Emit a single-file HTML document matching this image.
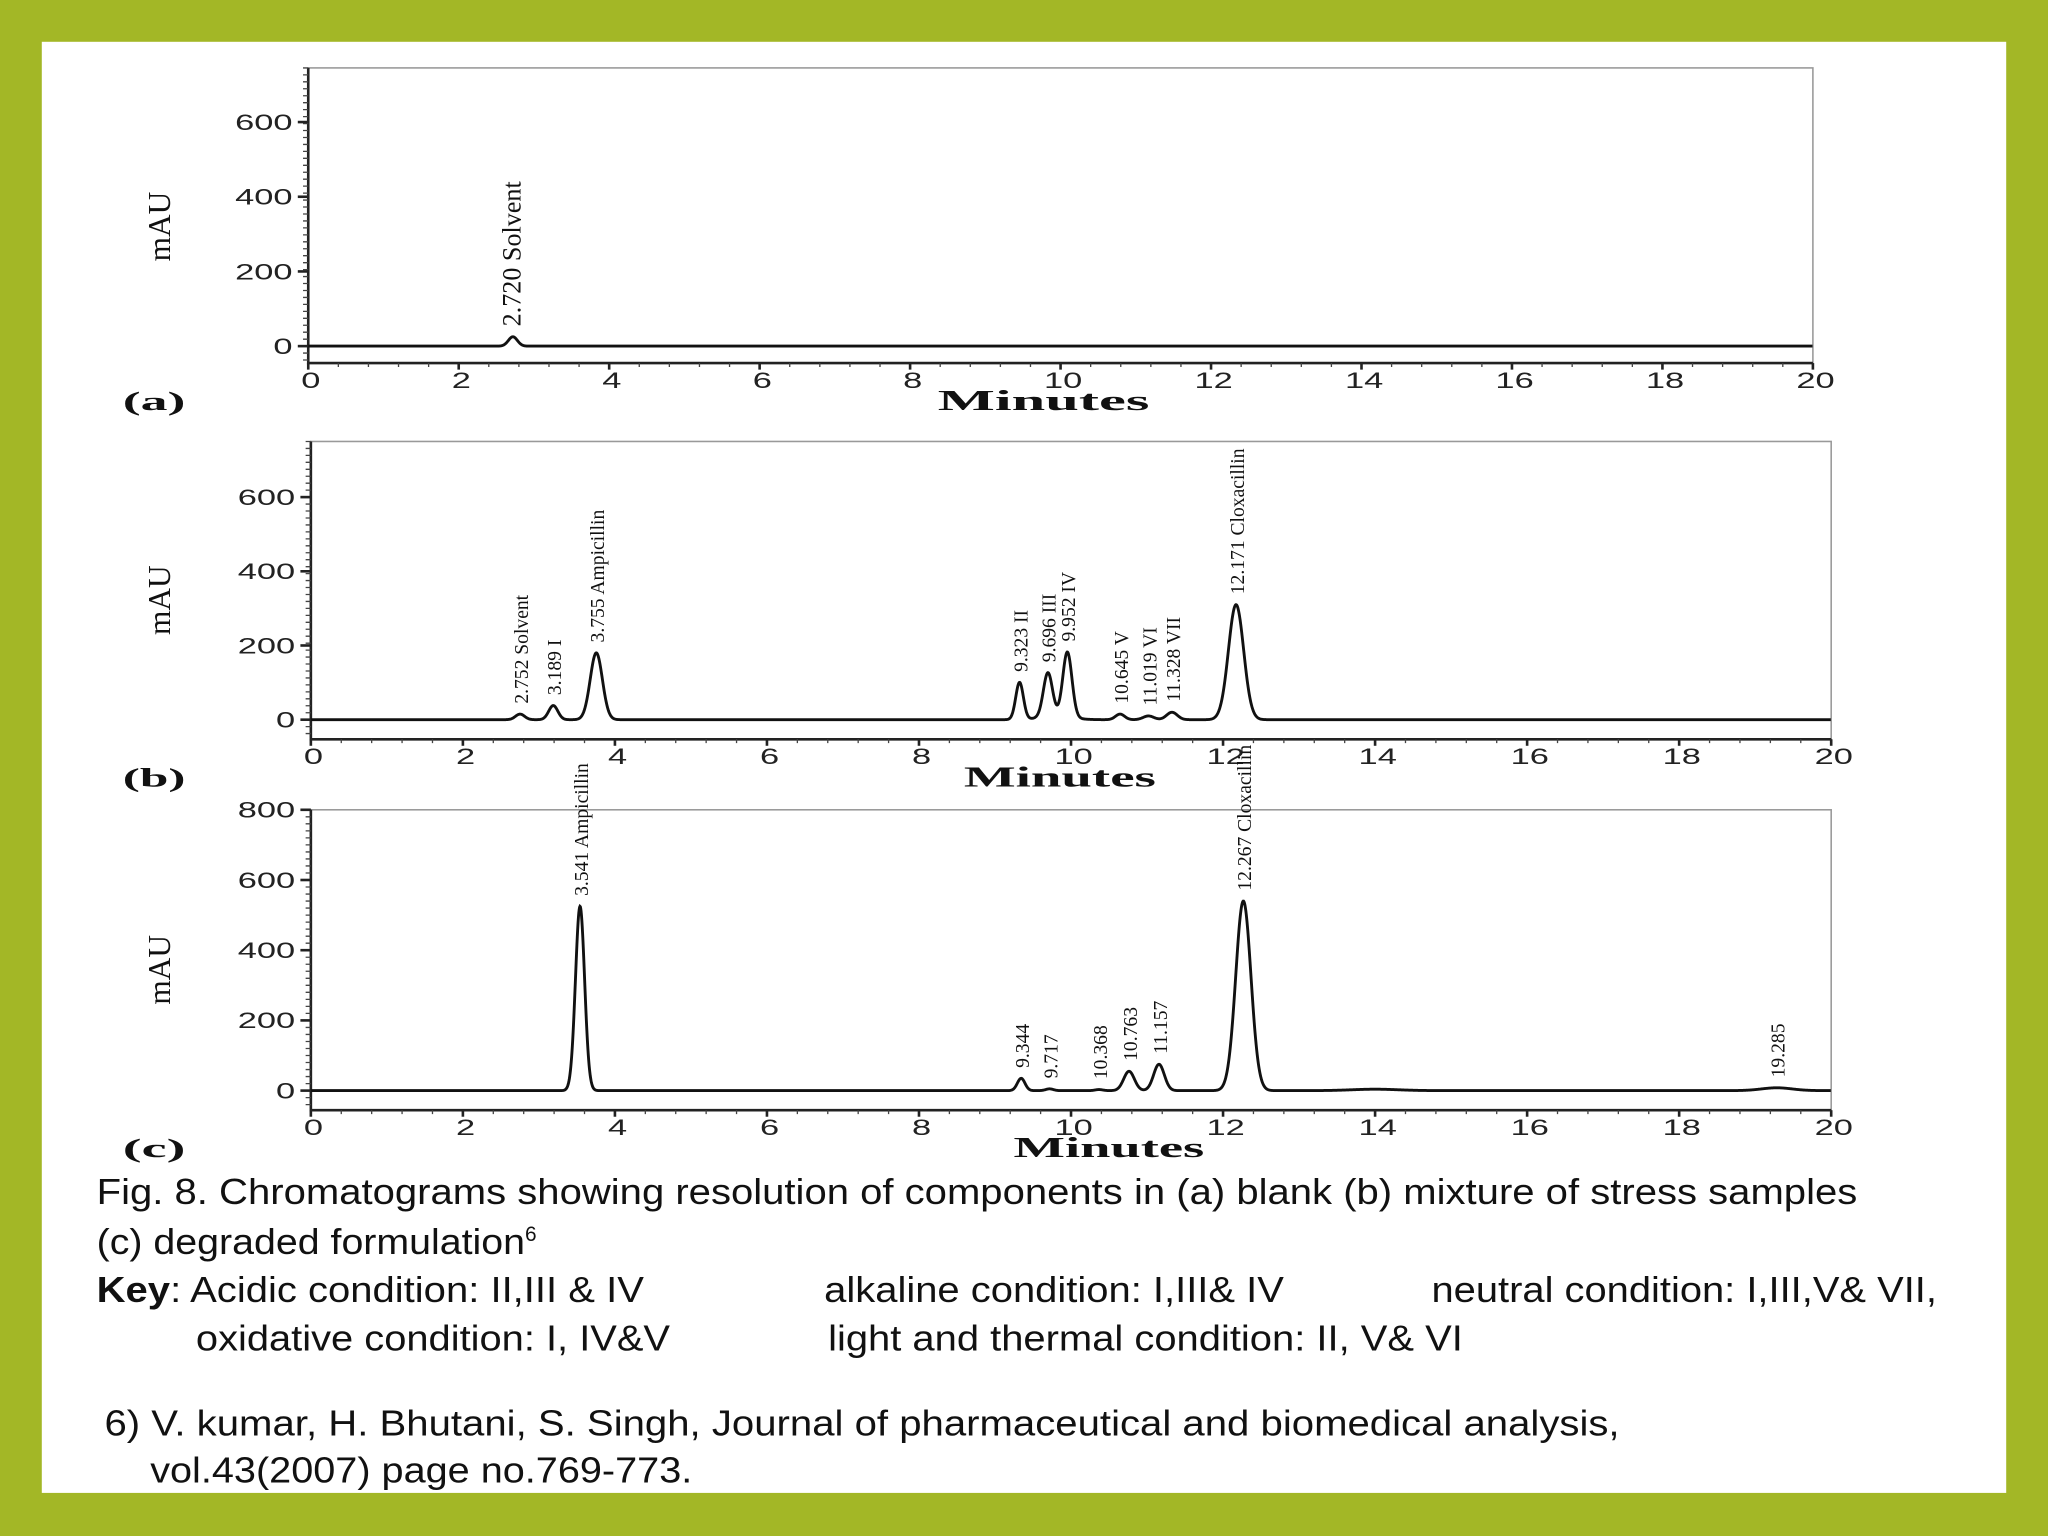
<!DOCTYPE html>
<html><head><meta charset="utf-8"><style>
html,body{margin:0;padding:0;background:#a3b726;}
svg{display:block}
.tk{font-family:"Liberation Sans",sans-serif;font-size:17px;fill:#222}
.ser{font-family:"Liberation Serif",serif;fill:#111}
.cap{font-family:"Liberation Sans",sans-serif;font-size:28px;fill:#111}
</style></head><body>
<svg id="root" width="2048" height="1536" viewBox="0 0 1568 1176">
<rect x="0" y="0" width="1568" height="1176" fill="#a3b726"/>
<rect x="32" y="32" width="1504" height="1111" fill="#fff"/>
<g id="charts"></g>
<g>
<text class="cap" x="74" y="922" textLength="1348" lengthAdjust="spacingAndGlyphs">Fig. 8. Chromatograms showing resolution of components in (a) blank (b) mixture of stress samples</text>
<text class="cap" x="74" y="960"><tspan textLength="328" lengthAdjust="spacingAndGlyphs">(c) degraded formulation</tspan><tspan font-size="16" dy="-10">6</tspan></text>
<text class="cap" x="74" y="997" textLength="419" lengthAdjust="spacingAndGlyphs"><tspan font-weight="bold">Key</tspan>: Acidic condition: II,III &amp; IV</text>
<text class="cap" x="631" y="997" textLength="352" lengthAdjust="spacingAndGlyphs">alkaline condition: I,III&amp; IV</text>
<text class="cap" x="1096" y="997" textLength="387" lengthAdjust="spacingAndGlyphs">neutral condition: I,III,V&amp; VII,</text>
<text class="cap" x="150" y="1034" textLength="363" lengthAdjust="spacingAndGlyphs">oxidative condition: I, IV&amp;V</text>
<text class="cap" x="634" y="1034" textLength="486" lengthAdjust="spacingAndGlyphs">light and thermal condition: II, V&amp; VI</text>
<text class="cap" x="80" y="1099" textLength="1160" lengthAdjust="spacingAndGlyphs">6) V. kumar, H. Bhutani, S. Singh, Journal of pharmaceutical and biomedical analysis,</text>
<text class="cap" x="115" y="1135" textLength="415" lengthAdjust="spacingAndGlyphs">vol.43(2007) page no.769-773.</text>
</g>
</svg>
<script>
const xTicks=[0,2,4,6,8,10,12,14,16,18,20];
const yTicksA=[0,200,400,600];
const yTicksC=[0,200,400,600,800];
const peaksA_t=[2.72];
const peaksA_h=[25];
const peaksA_w=[0.06];
const labelsA=["2.720 Solvent"];
const peaksB_t=[2.752,3.189,3.755,9.323,9.696,9.952,10.645,11.019,11.328,12.171,9.8];
const peaksB_h=[15,38,180,100,118,175,15,10,20,310,10];
const peaksB_w=[0.06,0.06,0.08,0.05,0.06,0.06,0.06,0.07,0.07,0.1,0.2];
const labelsB=["2.752 Solvent","3.189 I","3.755 Ampicillin","9.323 II","9.696 III","9.952 IV","10.645 V","11.019 VI","11.328 VII","12.171 Cloxacillin",""];
const peaksC_t=[3.541,9.344,9.717,10.368,10.763,11.157,12.267,14.0,19.285];
const peaksC_h=[525,35,5,3,55,75,540,4,8];
const peaksC_w=[0.06,0.05,0.05,0.05,0.07,0.07,0.1,0.3,0.2];
const labelsC=["3.541 Ampicillin","9.344","9.717","10.368","10.763","11.157","12.267 Cloxacillin","","19.285"];

const NS="http://www.w3.org/2000/svg";
const root=document.getElementById('charts');
function mk(tag,attrs,parent){const e=document.createElementNS(NS,tag);for(const k in attrs)e.setAttribute(k,attrs[k]);(parent||root).appendChild(e);return e;}

function panel(cfg){
  const g=mk('g',{});
  
  
  const X=v=>cfg.x0+(cfg.x1-cfg.x0)*v/20;
  const Y=v=>cfg.yz-(cfg.yz-cfg.ytop)*v/cfg.ymax;
  const frame=mk('rect',{x:cfg.x0,y:cfg.ytop,width:cfg.x1-cfg.x0,height:cfg.ybot-cfg.ytop,fill:'none',stroke:'#999','stroke-width':1.2},g);
  
  
  const ax=mk('path',{d:`M${cfg.x0},${cfg.ytop}V${cfg.ybot}H${cfg.x1}`,fill:'none',stroke:'#222','stroke-width':2},g);
  
  
  let d='';
  for(let v=-cfg.ymax;v<=cfg.ymax*1.2;v+=cfg.ymax/40){const y=Y(v);if(y>=cfg.ytop&&y<=cfg.ybot)d+=`M${cfg.x0},${y}h-4`;}
  for(let v=0;v<=20;v+=0.4)d+=`M${X(v)},${cfg.ybot}v3`;
  mk('path',{d:d,stroke:'#444','stroke-width':1},g);
  cfg.yt.forEach(v=>{
    mk('path',{d:`M${cfg.x0},${Y(v)}h-8`,stroke:'#222','stroke-width':2},g);
    const t=mk('text',{class:'tk','text-anchor':'end',transform:`translate(${cfg.x0-12},${Y(v)+6}) scale(1.55,1)`},g);t.textContent=v;
    
    
  });
  xTicks.forEach(v=>{
    mk('path',{d:`M${X(v)},${cfg.ybot}v5`,stroke:'#222','stroke-width':2},g);
    const t=mk('text',{class:'tk','text-anchor':'middle',transform:`translate(${X(v)+2},${cfg.ybot+19}) scale(1.55,1)`},g);t.textContent=v;
    
    
  });
  const xt=mk('text',{class:'ser',x:cfg.mx,y:cfg.ybot+36,'font-size':22,'font-weight':'bold',textLength:cfg.mw,lengthAdjust:'spacingAndGlyphs'},g);xt.textContent='Minutes';
  
  
  const pl=mk('text',{class:'ser',x:94,y:cfg.ybot+36,'font-size':20,'font-weight':'bold',textLength:48,lengthAdjust:'spacingAndGlyphs'},g);pl.textContent='('+cfg.id+')';
  
  
  const yl=mk('text',{class:'ser','font-size':24,transform:`translate(${cfg.ylx},${(cfg.ytop+cfg.yz)/2+15}) rotate(-90)`,'text-anchor':'middle'},g);yl.textContent='mAU';
  
  
  let p='';
  for(let t=0;t<=20;t+=0.005){
    let v=0;for(let i=0;i<cfg.t.length;i++){const z=(t-cfg.t[i])/cfg.w[i];v+=cfg.h[i]*Math.exp(-0.5*z*z);}
    p+=(p?'L':'M')+X(t).toFixed(2)+','+Y(v).toFixed(2);
  }
  const tr=mk('path',{d:p,fill:'none',stroke:'#111','stroke-width':2.2},g);
  
  
  for(let i=0;i<cfg.t.length;i++){
    if(!cfg.l[i])continue;
    let v=0;for(let j=0;j<cfg.t.length;j++){const z=(cfg.t[i]-cfg.t[j])/cfg.w[j];v+=cfg.h[j]*Math.exp(-0.5*z*z);}
    const x=X(cfg.t[i])+6,y=Y(v)-8;
    const t=mk('text',{class:'ser','font-size':cfg.fs,transform:`translate(${x},${y}) rotate(-90)`},g);t.textContent=cfg.l[i];
    
    
  }
}
panel({id:'a',x0:236,x1:1388,ytop:52,ybot:278,yz:265,ymax:745,yt:yTicksA,t:peaksA_t,h:peaksA_h,w:peaksA_w,l:labelsA,mx:718,mw:162,ylx:130,fs:20});
panel({id:'b',x0:238,x1:1402,ytop:338,ybot:566,yz:551,ymax:750,yt:yTicksA,t:peaksB_t,h:peaksB_h,w:peaksB_w,l:labelsB,mx:738,mw:147,ylx:130,fs:15});
panel({id:'c',x0:238,x1:1402,ytop:620,ybot:850,yz:835,ymax:800,yt:yTicksC,t:peaksC_t,h:peaksC_h,w:peaksC_w,l:labelsC,mx:776,mw:146,ylx:130,fs:15});
</script>
</body></html>
